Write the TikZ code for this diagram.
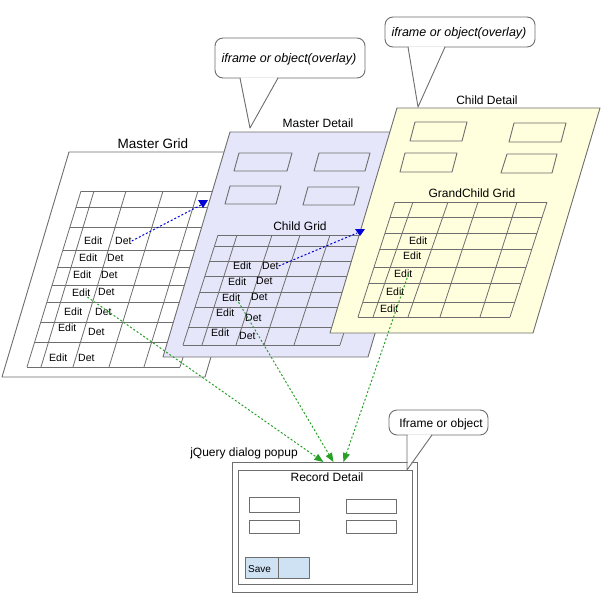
\documentclass[tikz,border=0pt]{standalone}
\usepackage{fontspec}
\setmainfont{Liberation Sans}
\usetikzlibrary{arrows.meta}
\definecolor{edgegray}{RGB}{110,110,110}
\definecolor{lav}{RGB}{230,230,250}
\definecolor{paleyellow}{RGB}{255,255,221}
\definecolor{savefill}{RGB}{207,226,243}
\definecolor{arrowgreen}{RGB}{40,160,40}
\definecolor{arrowblue}{RGB}{0,0,215}
\begin{document}
\begin{tikzpicture}[x=1pt,y=-1pt,
  outline/.style={draw=edgegray, line width=0.9pt, line join=round},
  gridln/.style={draw=edgegray, line width=0.8pt},
  lbl/.style={font=\fontsize{12}{14}\selectfont, inner sep=0pt},
  cell/.style={font=\fontsize{10.5}{12}\selectfont, inner sep=0pt, anchor=west},
  greenarrow/.style={draw=arrowgreen, line width=1pt, dash pattern=on 2pt off 2pt, -{Triangle[length=9pt,width=7pt,fill=arrowgreen]}},
  bluearrow/.style={draw=arrowblue, line width=1pt, dash pattern=on 2pt off 2pt},
  callout/.style={draw=edgegray, fill=white, line width=0.9pt, rounded corners=8pt},
  tail/.style={draw=edgegray, line width=0.9pt, line join=round}
]
\useasboundingbox[fill=white] (0,0) rectangle (604,597);

% ---------------- Master Grid ----------------
\draw[outline, fill=white] (69,152) -- (272,152) -- (205,377) -- (2,377) -- cycle;
\foreach \a/\b in {81/27, 94/41, 126/73, 163/109, 198/144, 235/180}
  \draw[gridln] (\a,191) -- (\b,367);
\foreach \y in {191,207,227,250,267,285,302,322,342,367}
  \draw[gridln] ({81-0.3068*(\y-191)},\y) -- ({235-0.3125*(\y-191)},\y);
\node[lbl, font=\fontsize{13.5}{15}\selectfont] (mgLbl) at (153,144) {Master Grid};
\node[cell] (mgE1) at (84,241) {Edit};  \node[cell] (mgD1) at (115,241) {Det};
\node[cell] (mgE2) at (79,258) {Edit};  \node[cell] (mgD2) at (107,258) {Det};
\node[cell] (mgE3) at (73,275) {Edit};  \node[cell] (mgD3) at (101,275) {Det};
\node[cell] (mgE4) at (72,293) {Edit};  \node[cell] (mgD4) at (98,292) {Det};
\node[cell] (mgE5) at (64,312) {Edit};  \node[cell] (mgD5) at (95,312) {Det};
\node[cell] (mgE6) at (58,328) {Edit};  \node[cell] (mgD6) at (88,332) {Det};
\node[cell] (mgE7) at (49,358) {Edit};  \node[cell] (mgD7) at (78,358) {Det};

% ---------------- Master Detail ----------------
\draw[outline, fill=lav] (230,132) -- (435,132) -- (368,357) -- (163,357) -- cycle;
\node[lbl] (mdLbl) at (318,123) {Master Detail};
\draw[outline] (239,153) -- (292,153) -- (287,171) -- (234,171) -- cycle;
\draw[outline] (319,153) -- (370,153) -- (365,171) -- (314,171) -- cycle;
\draw[outline] (230,186) -- (281,186) -- (276,204) -- (225,204) -- cycle;
\draw[outline] (308,187) -- (359,187) -- (354,205) -- (303,205) -- cycle;
\node[lbl] (cgLbl) at (300,226) {Child Grid};
\foreach \a/\b in {218/183, 237/202, 272/236, 300/264, 330/294, 375/340}
  \draw[gridln] (\a,235) -- (\b,345);
\foreach \y in {235,246,261,276,292,307,327,345}
  \draw[gridln] ({218-0.318*(\y-235)},\y) -- ({375-0.318*(\y-235)},\y);
\node[cell] (cgE1) at (233,266) {Edit};  \node[cell] (cgD1) at (262,266) {Det};
\node[cell] (cgE2) at (228,282) {Edit};  \node[cell] (cgD2) at (256,281) {Det};
\node[cell] (cgE3) at (222,298) {Edit};  \node[cell] (cgD3) at (251,297) {Det};
\node[cell] (cgE4) at (216,313) {Edit};  \node[cell] (cgD4) at (245,318) {Det};
\node[cell] (cgE5) at (211,333) {Edit};  \node[cell] (cgD5) at (239,336) {Det};

% blue arrow 1 (Master grid Det -> Master Detail)
\coordinate (bt1) at (201,205);
\draw[bluearrow] (mgD1.east) -- (bt1);
\fill[arrowblue] (198,200) -- (208,200) -- (203,208) -- cycle;

% ---------------- Child Detail ----------------
\draw[outline, fill=paleyellow] (397,108) -- (600,108) -- (533,333) -- (330,333) -- cycle;
\node[lbl] (cdLbl) at (487,100) {Child Detail};
\draw[outline] (415,122) -- (467,122) -- (462,141) -- (410,141) -- cycle;
\draw[outline] (514,123) -- (566,123) -- (561,142) -- (509,142) -- cycle;
\draw[outline] (405,153) -- (457,153) -- (452,172) -- (400,172) -- cycle;
\draw[outline] (507,154) -- (557,154) -- (552,173) -- (501,173) -- cycle;
\node[lbl] (gcLbl) at (472,193) {GrandChild Grid};
\foreach \a/\b in {395/358, 413/373, 448/408, 478/440, 517/480, 547/510}
  \draw[gridln] (\a,202) -- (\b,317);
\foreach \y in {202,217,233,249,267,283,302,317}
  \draw[gridln] ({395-0.322*(\y-202)},\y) -- ({547-0.322*(\y-202)},\y);
\node[cell] (gcE1) at (409,241) {Edit};
\node[cell] (gcE2) at (403,256) {Edit};
\node[cell] (gcE3) at (394,274) {Edit};
\node[cell] (gcE4) at (386,292) {Edit};
\node[cell] (gcE5) at (380,309) {Edit};

% blue arrow 2 (Child grid Det -> Child Detail)
\coordinate (bt2) at (357,233);
\draw[bluearrow] (cgD1.east) -- (bt2);
\fill[arrowblue] (355,229) -- (365,229) -- (360,236) -- cycle;

% ---------------- Dialog ----------------
\node[lbl] (dlgLbl) at (244,453) {jQuery dialog popup};
\node[draw=edgegray, line width=0.9pt, minimum width=185pt, minimum height=130pt, inner sep=0pt, anchor=north west] (dlg) at (232,462) {};
\node[draw=edgegray, line width=0.9pt, minimum width=174pt, minimum height=114pt, inner sep=0pt, anchor=north west] (dlgIn) at (238,470) {};
\node[lbl] (rdLbl) at (327,477) {Record Detail};
\draw[outline] (249,497) rectangle (299,512);
\draw[outline] (249,520) rectangle (299,533);
\draw[outline] (346,499) rectangle (396,513);
\draw[outline] (346,520) rectangle (396,533);
\draw[outline, fill=savefill] (245,557) rectangle (309,578);
\draw[outline] (278,557) -- (278,578);
\node[cell, font=\fontsize{10}{12}\selectfont] (saveLbl) at (248,569) {Save};

% ---------------- green arrows ----------------
\draw[greenarrow] ([xshift=-3pt]mgE4.south east) -- ([xshift=-1.5pt]dlg.north);
\draw[greenarrow] ([xshift=-2pt]cgE3.south east) -- ([xshift=8.5pt]dlg.north);
\draw[greenarrow] ([xshift=-4pt]gcE3.east) -- ([xshift=18.5pt]dlg.north);

% ---------------- callouts ----------------
\draw[callout] (215,38) rectangle (365,78);
\fill[white] (240.6,77.3) -- (277.4,77.3) -- (250,126) -- cycle;
\draw[tail] (240,78) -- (250,128) -- (278,78);
\node[lbl, font=\fontsize{12.5}{14}\itshape] (co1) at (289,59) {iframe or object(overlay)};

\draw[callout] (385,17) rectangle (535,47);
\fill[white] (408.6,46.3) -- (444.4,46.3) -- (418,105) -- cycle;
\draw[tail] (408,47) -- (418,107) -- (445,47);
\node[lbl, font=\fontsize{12.5}{14}\itshape] (co2) at (459,33) {iframe or object(overlay)};

\draw[callout] (389,410) rectangle (488,435);
\fill[white] (407.6,434.3) -- (431.4,434.3) -- (407.6,468) -- cycle;
\draw[tail] (407,435) -- (407,470) -- (432,435);
\node[lbl] (co3) at (441,424) {Iframe or object};
\end{tikzpicture}
\end{document}
